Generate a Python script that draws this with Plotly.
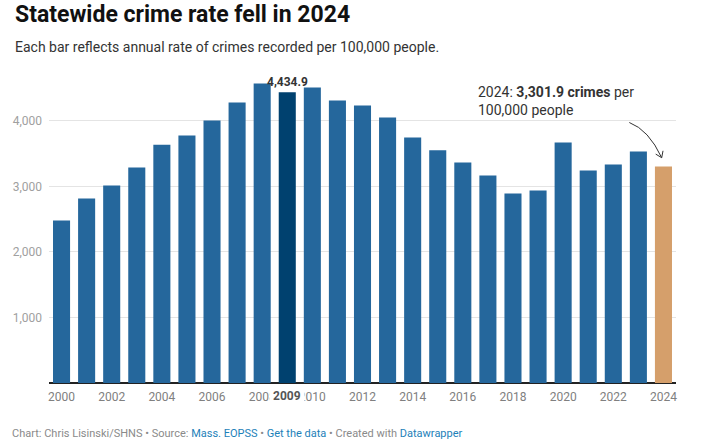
import plotly.graph_objects as go

years = list(range(2000, 2025))
rates = [2478, 2814, 3012, 3288, 3637, 3776, 4004, 4280, 4570, 4434.9,
         4509, 4310, 4233, 4050, 3745, 3552, 3363, 3165, 2890, 2936,
         3670, 3243, 3335, 3532, 3301.9]
tick_years = list(range(2000, 2025, 2))
y_ticks = [1000, 2000, 3000, 4000]
highlight_year = 2009
latest_year = 2024

W, H = 705, 445
ML, MR, MT, MB = 49, 29, 75, 62
PW, PH = W - ML - MR, H - MT - MB


def px(x):
    return (x - ML) / PW


def py(y):
    return (H - MB - y) / PH


BLUE = "#25679c"
DARK = "#00416f"
ORANGE = "#d59f6b"
colors = [DARK if y == highlight_year else ORANGE if y == latest_year else BLUE for y in years]

fig = go.Figure(go.Bar(x=years, y=rates, marker=dict(color=colors, line=dict(width=0)),
                       hoverinfo="x+y"))

FONT = "Roboto"
fig.update_layout(
    width=W, height=H,
    margin=dict(l=ML, r=MR, t=MT, b=MB, autoexpand=False),
    paper_bgcolor="white", plot_bgcolor="white",
    bargap=0.32, showlegend=False,
    font=dict(family=FONT),
    xaxis=dict(range=[1999.5, 2024.5], tickvals=tick_years, ticktext=[str(t) for t in tick_years],
               showgrid=False, zeroline=False, showline=False, ticks="",
               tickfont=dict(family=FONT, size=12, color="#808080"), ticklabelstandoff=5,
               fixedrange=True),
    yaxis=dict(range=[0, 4700], tickvals=y_ticks, ticktext=[f"{v:,}" for v in y_ticks],
               showgrid=True, gridcolor="#e4e4e4", gridwidth=1, zeroline=True,
               zerolinecolor="#222222", zerolinewidth=1.5, showline=False, ticks="",
               tickfont=dict(family=FONT, size=12, color="#a0a0a0"), ticklabelstandoff=6,
               fixedrange=True),
)

ann = []
ann.append(dict(xref="paper", yref="paper", x=px(13), y=py(14), xanchor="left", yanchor="middle",
                text="<b>Statewide crime rate fell in 2024</b>", showarrow=False,
                font=dict(family=FONT, size=23, color="#111111")))
ann.append(dict(xref="paper", yref="paper", x=px(13), y=py(47), xanchor="left", yanchor="middle",
                text="Each bar reflects annual rate of crimes recorded per 100,000 people.",
                showarrow=False, font=dict(family=FONT, size=14, color="#333333")))
link = "#1d81b9"
footer = ("Chart: Chris Lisinski/SHNS • Source: "
          f"<span style='color:{link}'>Mass. EOPSS</span> • "
          f"<span style='color:{link}'>Get the data</span> • Created with "
          f"<span style='color:{link}'>Datawrapper</span>")
ann.append(dict(xref="paper", yref="paper", x=px(10), y=py(433), xanchor="left", yanchor="middle",
                text=footer, showarrow=False, font=dict(family=FONT, size=11, color="#8a8a8a")))

hi_val = rates[years.index(highlight_year)]
ann.append(dict(x=highlight_year, y=hi_val, xref="x", yref="y", yanchor="bottom", yshift=1,
                text=f"<b>{hi_val:,.1f}</b>", showarrow=False,
                font=dict(family=FONT, size=12, color="#333333")))
ann.append(dict(x=highlight_year, y=0, xref="x", yref="paper", yanchor="top", yshift=-2,
                text=f"<b>{highlight_year}</b>", showarrow=False, bgcolor="white", borderpad=3,
                font=dict(family=FONT, size=12, color="#555555")))

last_val = rates[years.index(latest_year)]
ann.append(dict(xref="paper", yref="paper", x=px(476), y=py(101), xanchor="left", yanchor="middle",
                align="left",
                text=f"{latest_year}: <b>{last_val:,.1f} crimes</b> per<br>100,000 people",
                showarrow=False, font=dict(family=FONT, size=14, color="#333333")))
fig.update_layout(annotations=ann)

# curved arrow
def pt(x, y):
    return f"{px(x):.5f},{py(y):.5f}"

fig.add_shape(type="path", xref="paper", yref="paper",
              path=f"M {pt(629.3, 122.5)} Q {pt(648.7, 129.8)} {pt(661.7, 157.7)}",
              line=dict(color="#333333", width=1))
fig.add_shape(type="path", xref="paper", yref="paper",
              path=f"M {pt(655.7, 154.1)} L {pt(661.7, 157.7)} L {pt(663.0, 150.8)}",
              line=dict(color="#333333", width=1))

fig.write_html("out.html")
